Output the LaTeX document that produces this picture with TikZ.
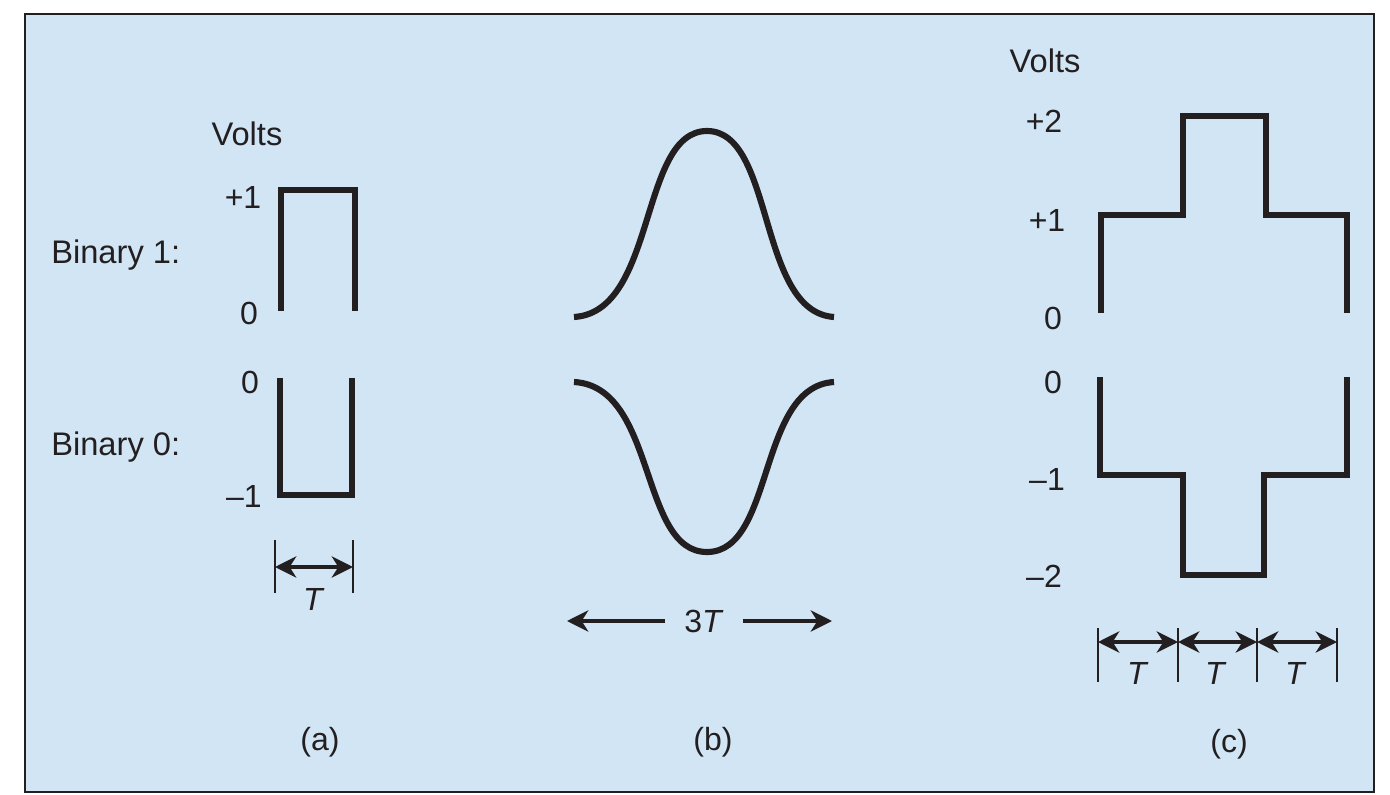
\documentclass[tikz,border=0pt]{standalone}
\usepackage{fontspec}
\setmainfont{Liberation Sans}
\usetikzlibrary{arrows.meta}
\definecolor{panelblue}{RGB}{209,229,245}
\definecolor{ink}{RGB}{35,31,32}
\tikzset{
    wave/.style={line width=4.6pt, ink, line cap=butt, line join=miter},
    tickbar/.style={line width=1.9pt, ink},
    dimarrow/.style={line width=2.3pt, ink, {Stealth[length=16pt,width=16pt,inset=5pt]}-{Stealth[length=16pt,width=16pt,inset=5pt]}},
    halfarrow/.style={line width=2.3pt, ink, -{Stealth[length=16pt,width=16pt,inset=5pt]}},
    word/.style={ink, inner sep=0pt, font=\fontsize{24.5}{29}\selectfont},
    num/.style={ink, inner sep=0pt, font=\fontsize{24}{28}\selectfont},
    tlabel/.style={ink, inner sep=0pt, font=\fontsize{24}{28}\selectfont\itshape}
}
\def\Pulse{
    \draw[wave] (-133,0) .. controls (-50,-5) and (-68,-186) .. (0,-186)
        .. controls (68,-186) and (50,-5) .. (127,0);
}

\begin{document}
\begin{tikzpicture}[x=0.75pt,y=-0.75pt]
    \fill[white] (0,0) rectangle (1390,795);
    \useasboundingbox (0,0) rectangle (1390,795);
    \draw[line width=2pt, ink, fill=panelblue] (25,14) rectangle (1374,792);

    % (a)
    \node[word] (aVolts) at (247,134) {Volts};
    \node[word, anchor=base west] (aOne) at (51,264) {Binary 1:};
    \node[word, anchor=base west] (aZero) at (51,455) {Binary 0:};
    \node[num] (aP1) at (243,197) {+1};
    \node[num] (aU0) at (249,313) {0};
    \node[num] (aL0) at (250,382) {0};
    \node[num] (aM1) at (244,496) {\textendash1};

    \draw[wave] (281,311) -- (281,190) -- (355,190) -- (355,311);
    \draw[wave] (280,378) -- (280,495) -- (352,495) -- (352,378);

    \coordinate (aT1t) at (275,540);
    \coordinate (aT1b) at (275,593);
    \coordinate (aT2t) at (353,540);
    \coordinate (aT2b) at (353,593);
    \coordinate (aA1) at (275,567);
    \coordinate (aA2) at (353,567);
    \draw[tickbar] (aT1t) -- (aT1b);
    \draw[tickbar] (aT2t) -- (aT2b);
    \draw[dimarrow] (aA1) -- (aA2);
    \node[tlabel] (aT) at (313,599) {T};
    \node[num] (aCap) at (320,742) {(a)};

    % (b)
    \begin{scope}[shift={(707,317)}]
        \Pulse
    \end{scope}
    \begin{scope}[shift={(707,382)}, yscale=-0.914]
        \Pulse
    \end{scope}

    \node[tlabel, font=\fontsize{24}{28}\selectfont, inner xsep=14pt] (b3T) at (704,621) {3\textit{T}};
    \coordinate (bL) at (567,621);
    \coordinate (bR) at (832,621);
    \draw[halfarrow] (b3T) -- (bL);
    \draw[halfarrow] (b3T) -- (bR);
    \node[num] (bCap) at (713,742) {(b)};

    % (c)
    \node[word] (cVolts) at (1045,61) {Volts};
    \node[num] (cP2) at (1044,121) {+2};
    \node[num] (cP1) at (1047,220) {+1};
    \node[num] (cU0) at (1053,318) {0};
    \node[num] (cL0) at (1053,382) {0};
    \node[num] (cM1) at (1047,479) {\textendash1};
    \node[num] (cM2) at (1044,576) {\textendash2};

    \draw[wave] (1101,313) -- (1101,215) -- (1183,215) -- (1183,116) -- (1266,116) -- (1266,215) -- (1347,215) -- (1347,313);
    \draw[wave] (1100,377) -- (1100,475) -- (1183,475) -- (1183,575) -- (1264,575) -- (1264,475) -- (1347,475) -- (1347,377);

    \foreach \i/\x in {1/1098,2/1178,3/1257,4/1337}{
        \coordinate (cT\i t) at (\x,628);
        \coordinate (cT\i b) at (\x,682);
        \coordinate (cA\i) at (\x,642);
        \draw[tickbar] (cT\i t) -- (cT\i b);
    }
    \draw[dimarrow] (cA1) -- (cA2);
    \draw[dimarrow] (cA2) -- (cA3);
    \draw[dimarrow] (cA3) -- (cA4);
    \node[tlabel] (cTa) at (1137,673) {T};
    \node[tlabel] (cTb) at (1215,673) {T};
    \node[tlabel] (cTc) at (1295,673) {T};
    \node[num] (cCap) at (1229,744) {(c)};

\end{tikzpicture}
\end{document}
